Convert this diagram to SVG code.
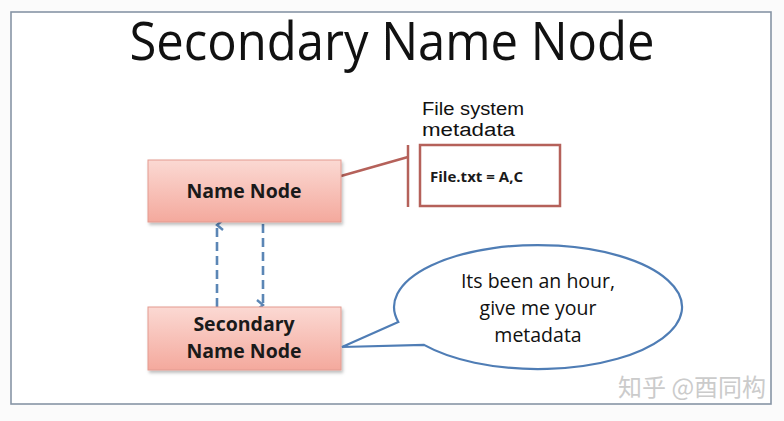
<svg xmlns="http://www.w3.org/2000/svg" width="784" height="421" viewBox="0 0 784 421">
  <defs>
    <linearGradient id="nodeFill" x1="0" y1="0" x2="0" y2="1">
      <stop offset="0" stop-color="#fbd9d3"/>
      <stop offset="1" stop-color="#f4a99d"/>
    </linearGradient>
    <filter id="shadow" x="-10%" y="-10%" width="125%" height="130%">
      <feDropShadow dx="1.5" dy="2.5" stdDeviation="1.5" flood-color="#000" flood-opacity="0.25"/>
    </filter>
    <marker id="chevron" viewBox="0 0 12 12" refX="6" refY="2" markerWidth="12" markerHeight="12" markerUnits="userSpaceOnUse" orient="auto-start-reverse">
      <path d="M1,8 L6,2 L11,8" fill="none" stroke="#5b86b5" stroke-width="2.4"/>
    </marker>
    <style>
      .frame { fill: #ffffff; stroke: #8795a6; stroke-width: 1.6; }
      .title { font-family: "Open Sans", "Liberation Sans", sans-serif; font-size: 53px; fill: #111; }
      .node rect { fill: url(#nodeFill); stroke: #e39a90; stroke-width: 1; filter: url(#shadow); }
      .node text { font-family: "Open Sans", "Liberation Sans", sans-serif; font-weight: bold; font-size: 19.5px; fill: #1a1a1a; text-anchor: middle; }
      .meta { fill: #ffffff; stroke: #b5615a; stroke-width: 2.5; }
      .link { fill: none; stroke: #b5615a; stroke-width: 2.5; }
      .flow { fill: none; stroke: #5b86b5; stroke-width: 2.6; stroke-dasharray: 9 5; }
      .label { font-family: "Liberation Sans", "Open Sans", sans-serif; font-size: 18px; fill: #111; }
      .bubble { fill: #ffffff; stroke: #4f7db5; stroke-width: 2.2; }
      .bubble-text { font-family: "Open Sans", "Liberation Sans", sans-serif; font-size: 19.5px; fill: #111; text-anchor: middle; }
      .mark { font-family: "Noto Sans CJK SC", sans-serif; font-size: 24px; fill: #cbcbcb; }
    </style>
  </defs>

  <rect width="784" height="421" fill="#fbfbfb"/>
  <rect class="frame" x="11" y="12" width="760" height="392"/>

  <text class="title" x="392" y="60" text-anchor="middle" textLength="525" lengthAdjust="spacingAndGlyphs">Secondary Name Node</text>

  <!-- connectors -->
  <g id="connectors">
    <line class="link" x1="341" y1="176" x2="408" y2="157"/>
    <line class="link" x1="408" y1="145" x2="408" y2="207"/>
    <line class="flow" x1="217" y1="307" x2="217" y2="225" marker-end="url(#chevron)"/>
    <line class="flow" x1="263" y1="224" x2="263" y2="305" marker-end="url(#chevron)"/>
  </g>

  <g id="name-node" class="node">
    <rect x="148" y="160" width="193" height="62"/>
    <text x="244" y="198">Name Node</text>
  </g>

  <g id="secondary-name-node" class="node">
    <rect x="148" y="307" width="193" height="63"/>
    <text x="244" y="331">Secondary</text>
    <text x="244" y="358">Name Node</text>
  </g>

  <g id="metadata">
    <text class="label" x="422" y="115" textLength="102" lengthAdjust="spacingAndGlyphs">File system</text>
    <text class="label" x="422" y="136" textLength="93" lengthAdjust="spacingAndGlyphs">metadata</text>
    <rect class="meta" x="420" y="145" width="140" height="61"/>
    <text x="430" y="182" font-family="'Open Sans', 'Liberation Sans', sans-serif" font-weight="bold" font-size="15" fill="#1a1a1a" textLength="93" lengthAdjust="spacingAndGlyphs">File.txt = A,C</text>
  </g>

  <!-- ellipse centred at (538,307), rx 144, ry 62, with a tail to the secondary node -->
  <g id="speech-bubble">
    <path class="bubble" d="M398.3,322 A144,62 0 1 1 424,344.9 L342,347 Z"/>
    <text class="bubble-text" x="538" y="288">Its been an hour,</text>
    <text class="bubble-text" x="538" y="315">give me your</text>
    <text class="bubble-text" x="538" y="342">metadata</text>
  </g>

  <text class="mark" x="618" y="396">知乎 @酉同构</text>
</svg>
